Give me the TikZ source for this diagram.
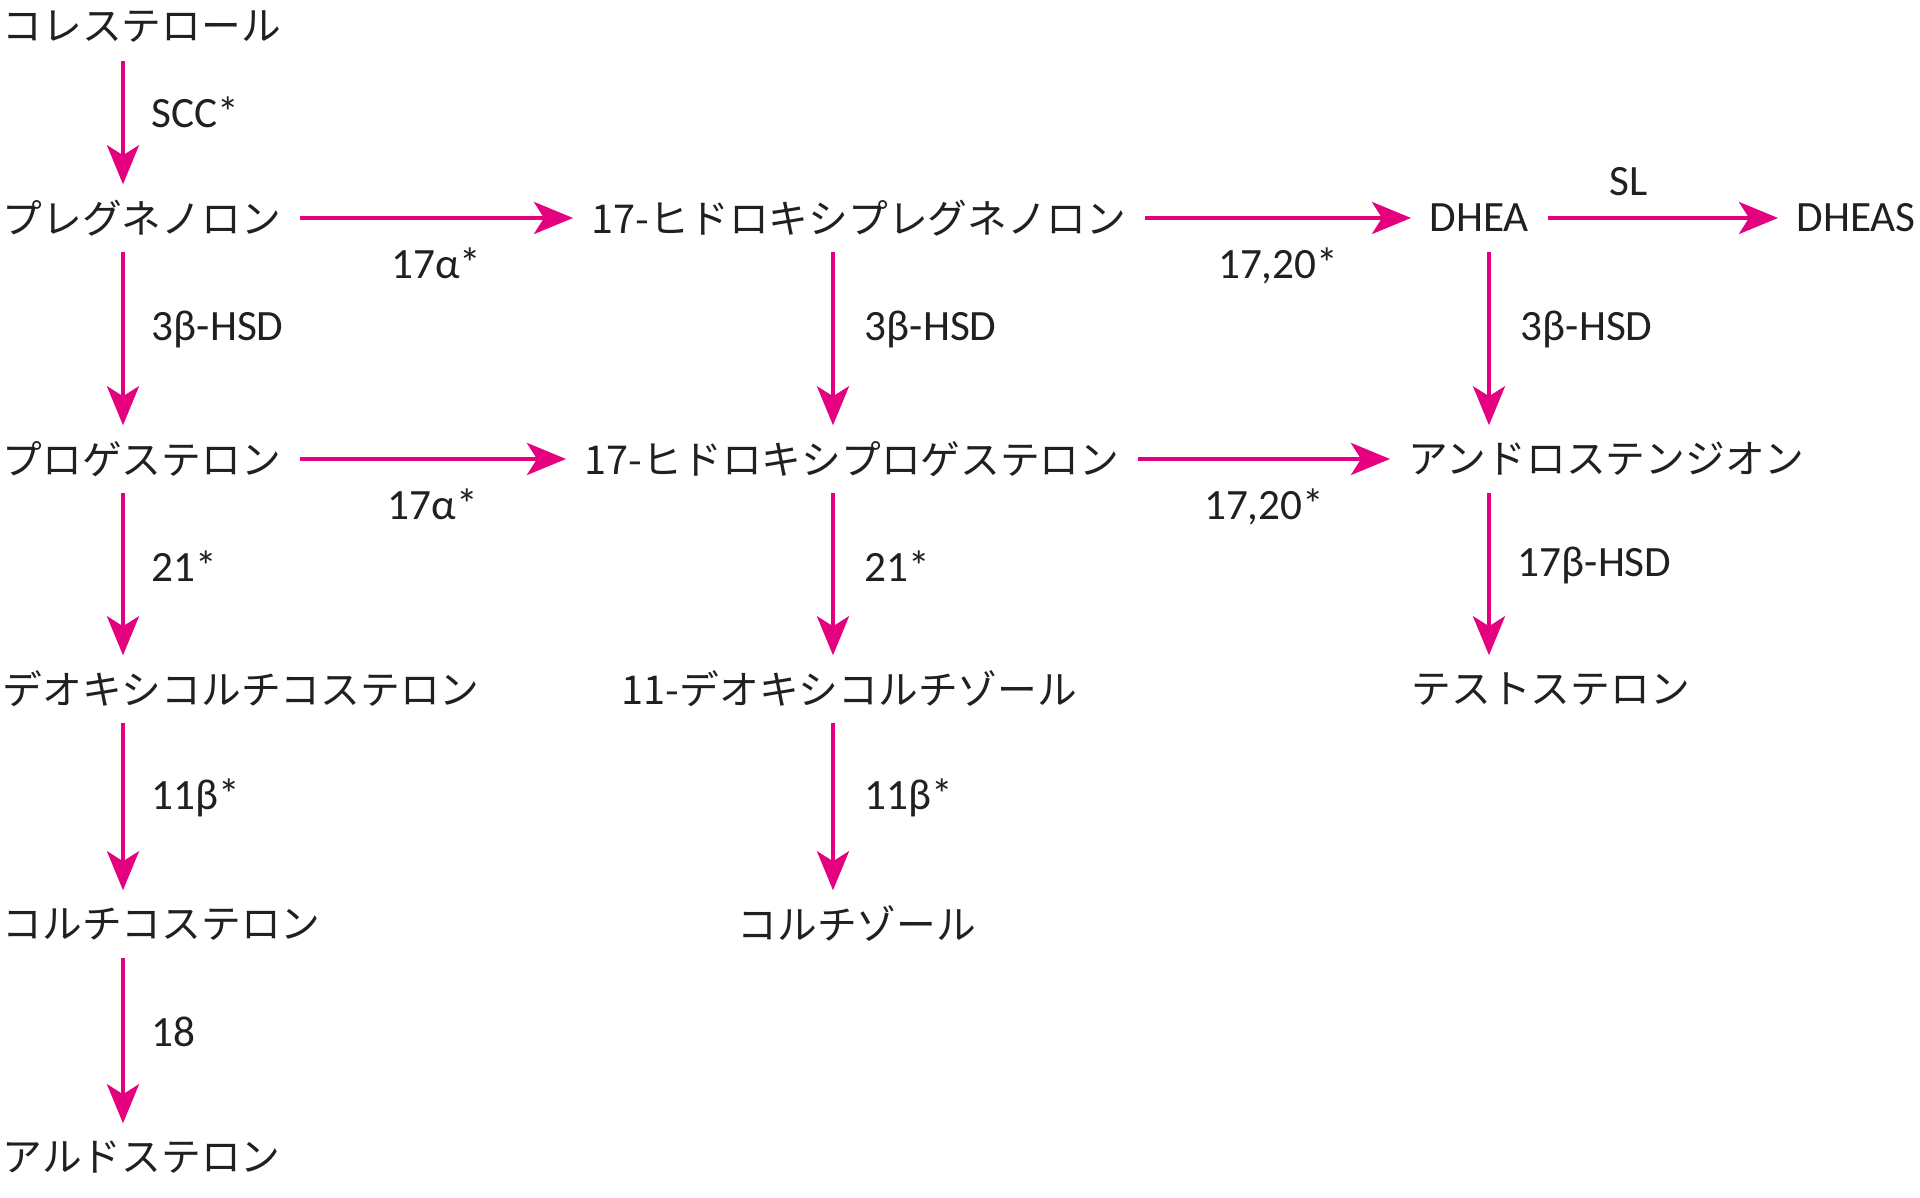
\documentclass[tikz,border=0pt]{standalone}
\usepackage{fontspec}
\setmainfont{Carlito}
\newfontfamily\jp{Noto Sans CJK JP}
\usetikzlibrary{arrows.meta}
\definecolor{pathpink}{HTML}{E4007F}
\definecolor{ink}{HTML}{231F20}

\begin{document}
\begin{tikzpicture}[x=0.01cm,y=-0.01cm,
  cmpd/.style={anchor=west,inner xsep=0.18cm,inner ysep=0pt,minimum height=0.66cm,text=ink,font=\jp\fontsize{11.3}{13}\selectfont},
  latcmpd/.style={cmpd,font=\fontsize{12.3}{14}\selectfont},
  enz/.style={inner sep=0pt,text=ink,font=\fontsize{12.3}{14}\selectfont},
  conv/.style={draw=pathpink,line width=1.1pt,-{Stealth[length=0.39cm,width=0.32cm,inset=0.1cm]}}]
\useasboundingbox (0,0) rectangle (1920,1198);
\coordinate (c1) at (123,0);
\coordinate (c2) at (833,0);
\coordinate (c3) at (1489,0);

\node[cmpd] (chol) at (-16,27) {コレステロール};
\node[cmpd] (preg) at (-16,218) {プレグネノロン};
\node[cmpd] (prog) at (-16,459) {プロゲステロン};
\node[cmpd] (doc) at (-16,689) {デオキシコルチコステロン};
\node[cmpd] (cort) at (-16,924) {コルチコステロン};
\node[cmpd] (aldo) at (-16,1157) {アルドステロン};

\node[cmpd] (ohpreg) at (573,218) {17-ヒドロキシプレグネノロン};
\node[cmpd] (ohprog) at (566,459) {17-ヒドロキシプロゲステロン};
\node[cmpd] (deoxycortisol) at (603,689) {11-デオキシコルチゾール};
\node[cmpd] (cortisol) at (719,924) {コルチゾール};

\node[latcmpd] (dhea) at (1411,218) {DHEA};
\node[latcmpd] (dheas) at (1778,218) {DHEAS};
\node[cmpd] (andro) at (1390,459) {アンドロステンジオン};
\node[cmpd] (testo) at (1393,689) {テストステロン};

\draw[conv] (chol.south -| c1) -- node[enz,pos=0.42,right=0.27cm]{SCC*} (preg.north -| c1);
\draw[conv] (preg.south -| c1) -- node[enz,pos=0.45,right=0.27cm]{3β-HSD} (prog.north -| c1);
\draw[conv] (prog.south -| c1) -- node[enz,pos=0.45,right=0.27cm]{21*} (doc.north -| c1);
\draw[conv] (doc.south -| c1) -- node[enz,pos=0.45,right=0.27cm]{11β*} (cort.north -| c1);
\draw[conv] (cort.south -| c1) -- node[enz,pos=0.45,right=0.27cm]{18} (aldo.north -| c1);

\draw[conv] (ohpreg.south -| c2) -- node[enz,pos=0.45,right=0.3cm]{3β-HSD} (ohprog.north -| c2);
\draw[conv] (ohprog.south -| c2) -- node[enz,pos=0.45,right=0.3cm]{21*} (deoxycortisol.north -| c2);
\draw[conv] (deoxycortisol.south -| c2) -- node[enz,pos=0.45,right=0.3cm]{11β*} (cortisol.north -| c2);

\draw[conv] (dhea.south -| c3) -- node[enz,pos=0.45,right=0.3cm]{3β-HSD} (andro.north -| c3);
\draw[conv] (andro.south -| c3) -- node[enz,pos=0.45,right=0.27cm]{17β-HSD} (testo.north -| c3);

\draw[conv] (preg) -- node[enz,below=0.28cm]{17α*} (ohpreg);
\draw[conv] (ohpreg) -- node[enz,below=0.28cm]{17,20*} (dhea);
\draw[conv] (dhea) -- node[enz,pos=0.35,above=0.2cm]{SL} (dheas);
\draw[conv] (prog) -- node[enz,below=0.28cm]{17α*} (ohprog);
\draw[conv] (ohprog) -- node[enz,below=0.28cm]{17,20*} (andro);
\end{tikzpicture}
\end{document}
